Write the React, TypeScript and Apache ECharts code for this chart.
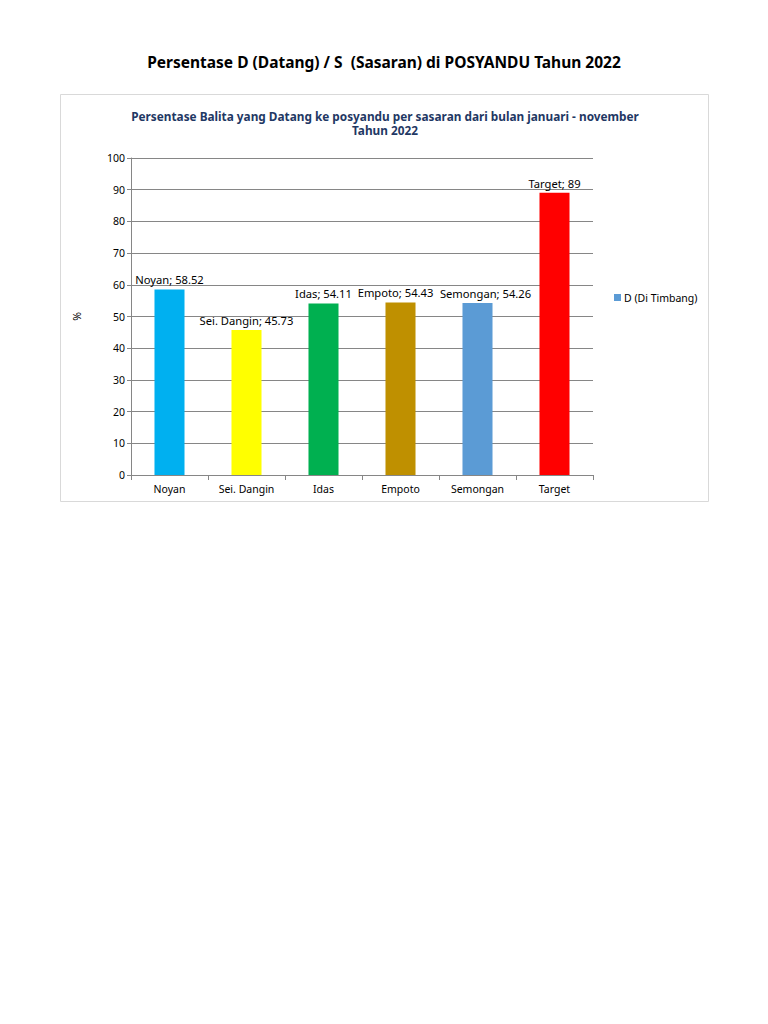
import * as echarts from 'echarts';
import { useEffect, useRef } from 'react';

const pageTitle = 'Persentase D (Datang) / S  (Sasaran) di POSYANDU Tahun 2022';
const chartTitle =
  'Persentase Balita yang Datang ke posyandu per sasaran dari bulan januari - november\nTahun 2022';
const seriesName = 'D (Di Timbang)';

const categories = ['Noyan', 'Sei. Dangin', 'Idas', 'Empoto', 'Semongan', 'Target'];
const values = [58.52, 45.73, 54.11, 54.43, 54.26, 89];
const barColors = ['#00B0F0', '#FFFF00', '#00B050', '#BF9000', '#5B9BD5', '#FF0000'];
const labelShift = [0, 0, 0, -5, 8, 0];

const FONT = 'Noto Sans';

export default function App() {
  const chartRef = useRef<HTMLDivElement>(null);

  useEffect(() => {
    if (!chartRef.current) return;
    const chart = echarts.init(chartRef.current, undefined, { renderer: 'svg' });

    chart.setOption({
      animation: false,
      backgroundColor: '#ffffff',
      textStyle: { fontFamily: FONT },
      graphic: [
        {
          type: 'rect',
          shape: { x: 60.5, y: 94.5, width: 648, height: 407 },
          style: { fill: 'none', stroke: '#D9D9D9', lineWidth: 1 },
        },
        {
          type: 'text',
          x: 384,
          y: 62,
          style: {
            text: pageTitle,
            fontFamily: FONT,
            fontSize: 15.5,
            fontWeight: 'bold',
            fill: '#000000',
            align: 'center',
            verticalAlign: 'middle',
          },
        },
      ],
      title: {
        text: chartTitle,
        left: 380,
        textAlign: 'center',
        top: 104,
        textStyle: {
          fontFamily: FONT,
          fontSize: 11.8,
          fontWeight: 'bold',
          color: '#1F3864',
          lineHeight: 14,
        },
      },
      legend: {
        data: [seriesName],
        left: 609,
        top: 287,
        icon: 'rect',
        itemWidth: 7,
        itemHeight: 7,
        itemGap: 4,
        textStyle: { fontFamily: FONT, fontSize: 10.5, color: '#000000', padding: [0, 0, 0, -2] },
        itemStyle: { color: '#5B9BD5' },
      },
      grid: { left: 131, right: 175, top: 158, bottom: 549 },
      xAxis: {
        type: 'category',
        data: categories,
        axisLine: { lineStyle: { color: '#868686' } },
        axisTick: { show: true, length: 5, lineStyle: { color: '#868686' } },
        axisLabel: { color: '#000000', fontFamily: FONT, fontSize: 10.5, margin: 8 },
      },
      yAxis: {
        type: 'value',
        min: 0,
        max: 100,
        interval: 10,
        name: '%',
        nameLocation: 'middle',
        nameRotate: 90,
        nameGap: 49,
        nameTextStyle: { color: '#000000', fontFamily: FONT, fontSize: 10.5 },
        axisLine: { show: true, lineStyle: { color: '#868686' } },
        axisTick: { show: true, length: 4, lineStyle: { color: '#868686' } },
        axisLabel: { color: '#000000', fontFamily: FONT, fontSize: 10.5, margin: 6 },
        splitLine: { lineStyle: { color: '#868686', width: 1 } },
      },
      series: [
        {
          name: seriesName,
          type: 'bar',
          barWidth: '39%',
          itemStyle: { color: '#5B9BD5' },
          label: {
            show: true,
            position: 'top',
            distance: 4,
            formatter: '{b}; {c}',
            color: '#000000',
            fontFamily: FONT,
            fontSize: 11.2,
          },
          data: values.map((v, i) => ({
            value: v,
            itemStyle: { color: barColors[i] },
            label: { offset: [labelShift[i], 0] },
          })),
        },
      ],
    });

    return () => {
      chart.dispose();
    };
  }, []);

  return (
    <div
      ref={chartRef}
      style={{ position: 'absolute', left: 0, top: 0, width: '768px', height: '1024px', background: '#ffffff' }}
    />
  );
}
